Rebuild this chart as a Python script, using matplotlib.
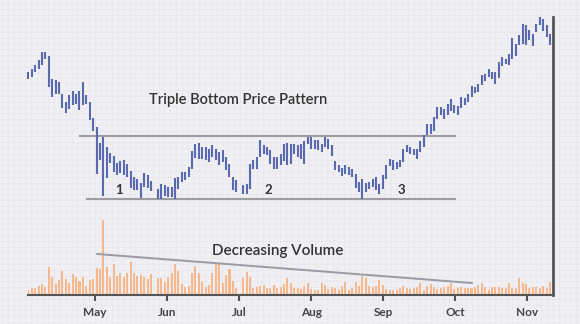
import numpy as np
import matplotlib
matplotlib.use("Agg")
import matplotlib.pyplot as plt

plt.rcParams['font.family'] = ['Lato', 'DejaVu Sans']

# price bars (high / low), one per trading day, nan = no trade
high = [45.7, 46.3, 47.0, 48.0, 49.7, 49.7, 48.8, 44.3, 44.0, 43.7,
        41.3, 39.7, 41.0, 41.8, 41.3, 41.8, 43.7, 41.0, 39.7, 36.5,
        34.7, 31.4, 32.7, 30.7, 29.4, 28.8, 27.4, 27.8, 28.0, 27.2,
        25.8, 24.6, 24.2, 23.4, 25.4, 25.1, 23.8, np.nan, 22.3, 23.2,
        23.1, 22.7, 22.7, 24.5, 24.7, 25.7, 25.7, 26.6, 29.8, 31.3,
        31.4, 30.7, 30.7, 30.3, 31.0, 30.3, 29.7, 30.0, 28.7, 27.3,
        24.7, 24.0, np.nan, 23.0, 23.3, 27.3, 28.0, 28.7, 32.0, 31.0,
        30.7, 30.0, 28.7, 28.7, 29.2, 31.2, 31.5, 31.3, 31.3, 31.0,
        31.3, 31.8, 32.7, 32.7, 32.0, 32.0, 31.3, 32.7, 32.3, 31.0,
        27.8, 27.0, 26.4, 27.0, 26.7, 26.3, 25.2, 23.7, 24.2, 23.5,
        23.7, 24.3, 24.7, 23.3, 25.0, 27.0, 28.3, 28.0, 27.7, 28.0,
        30.3, 31.0, 30.7, 30.3, 30.3, 31.9, 33.0, 35.3, 35.3, 36.7,
        38.7, 38.7, 38.3, 39.2, 40.3, 39.0, 38.8, 40.6, 40.4, 41.3,
        42.8, 42.7, 43.3, 45.0, 45.3, 46.3, 45.7, 45.7, 47.7, 48.7,
        48.2, 49.3, 52.5, 51.2, 53.0, 55.3, 55.0, 54.0, 53.3, 55.3,
        56.7, 56.3, 55.0, 53.2]
low = [44.2, 44.7, 45.7, 46.3, 47.0, 48.3, 42.7, 40.7, 41.3, 41.3,
       38.5, 37.5, 38.3, 39.0, 39.3, 38.0, 39.0, 39.3, 36.1, 33.9,
       25.3, 28.0, 20.8, 24.4, 27.4, 25.6, 25.0, 25.4, 25.0, 24.6,
       22.4, 22.0, 22.0, 20.4, 22.6, 22.4, 21.8, np.nan, 20.3, 20.3,
       20.8, 20.7, 20.7, 20.3, 22.2, 23.7, 24.0, 24.7, 26.3, 28.5,
       28.2, 28.3, 28.0, 27.7, 28.7, 28.0, 27.0, 27.7, 26.0, 24.7,
       22.0, 21.7, np.nan, 21.3, 21.3, 22.3, 26.3, 26.3, 28.7, 29.3,
       29.0, 27.3, 26.3, 26.3, 27.0, 27.8, 27.0, 27.3, 29.3, 28.7,
       28.3, 27.3, 31.2, 30.3, 30.3, 30.0, 29.7, 30.7, 30.3, 28.8,
       26.0, 25.7, 24.8, 25.3, 25.0, 24.6, 22.5, 21.7, 20.2, 21.7,
       22.2, 22.7, 22.0, 21.3, 22.3, 24.3, 26.8, 26.0, 26.3, 26.7,
       27.7, 29.7, 29.3, 29.0, 28.3, 29.7, 30.7, 33.0, 33.3, 33.8,
       36.2, 37.0, 36.3, 37.0, 37.8, 37.5, 37.0, 38.5, 39.0, 39.7,
       40.6, 41.4, 41.7, 43.0, 43.8, 44.7, 44.3, 43.2, 44.4, 46.8,
       47.3, 47.0, 48.3, 48.8, 51.0, 51.2, 51.0, 52.0, 50.9, 53.7,
       55.0, 53.8, 52.7, 51.0]

volume = [50, 67, 73, 90, 110, 83, 283, 183, 107, 150,
          243, 160, 117, 210, 183, 140, 183, 90, 150, 160,
          267, 257, 750, 283, 183, 307, 193, 217, 183, 217,
          333, 223, 190, 200, 177, 160, 207, 0, 173, 173,
          133, 177, 223, 307, 240, 110, 77, 90, 223, 290,
          223, 127, 83, 100, 223, 307, 307, 117, 200, 257,
          143, 67, 0, 173, 233, 183, 67, 83, 93, 100,
          67, 67, 100, 67, 83, 107, 167,
          117, 67, 67, 60, 93, 123, 60, 50, 50, 123,
          100, 57, 83, 73, 50, 93, 133, 50, 67, 133,
          93, 190, 167, 90, 83, 93, 150, 97, 57, 50,
          50, 50, 67, 93, 67, 57, 67, 83, 123, 50,
          90, 107, 83, 60, 67, 83, 93, 123, 60, 67,
          83, 67, 67, 67, 83, 100, 117, 83, 50, 83,
          83, 83, 67, 67, 123, 67, 67, 167, 117, 107,
          67, 83, 83, 67, 90, 67, 133]

months = ['May', 'Jun', 'Jul', 'Aug', 'Sep', 'Oct', 'Nov']

support = 20.2
resistance = 32.8

days = np.arange(len(high))

fig = plt.figure(figsize=(5.8, 3.24), dpi=100)
fig.patch.set_facecolor('#f0f0f4')

# graph paper background
bg = fig.add_axes([0, 0, 1, 1], zorder=0)
bg.set_xlim(0, 580)
bg.set_ylim(0, 324)
bg.set_facecolor('#f0f0f4')
bg.set_xticks(np.arange(2, 580, 5.8))
bg.set_yticks(np.arange(2, 324, 5.8))
bg.grid(True, color='#e6e6ec', lw=0.5)
bg.tick_params(length=0, labelbottom=False, labelleft=False)
for s in bg.spines.values():
    s.set_visible(False)

rect = [28 / 580, 29 / 324, 525 / 580, 278 / 324]
ax_v = fig.add_axes(rect, zorder=1)
ax_v.patch.set_alpha(0)
ax_p = ax_v.twinx()
ax_p.patch.set_alpha(0)

# volume
ax_v.bar(days, volume, width=0.6, color='#f7b98c', zorder=2)
ax_v.set_ylim(0, 2780)
ax_v.plot([20.2, 130.1], [410, 120], color='#9a9aa6', lw=1.4)
ax_v.text(73.2, 440, 'Decreasing Volume', ha='center', va='center',
          fontsize=11, color='#333333', fontweight='semibold')

# price bars
ax_p.vlines(days, low, high, color='#5b6aae', lw=1.5, clip_on=False)
ax_p.set_ylim(1.0, 56.6)
ax_p.plot([15.2, 125.1], [resistance, resistance], color='#9c9ca2', lw=1.5, zorder=1)
ax_p.plot([17.2, 125.1], [support, support], color='#9c9ca2', lw=1.5, zorder=1)
ax_p.text(61.5, 40.0, 'Triple Bottom Price Pattern', ha='center', va='center',
          fontsize=10.5, color='#333333', fontweight='semibold')
for n, xi in zip(['1', '2', '3'], [26.6, 70.3, 109.3]):
    ax_p.text(xi, 22.0, n, ha='center', va='center', fontsize=9.5,
              color='#333333', fontweight='bold')

ax_v.set_xlim(-0.1, 153.9)
ax_v.set_xticks(19.56 + 21.12 * np.arange(len(months)))
ax_v.set_xticklabels(months)
ax_v.tick_params(axis='x', direction='out', length=4, width=1.5, color='#555555',
                 pad=5, labelsize=8.5, labelcolor='#444444')
for lab in ax_v.get_xticklabels():
    lab.set_fontweight('bold')
ax_v.set_yticks([])
ax_p.set_yticks([])

for a in (ax_v, ax_p):
    for side in ('top', 'left', 'right', 'bottom'):
        a.spines[side].set_visible(False)
ax_v.spines['bottom'].set_visible(True)
ax_v.spines['bottom'].set_color('#555555')
ax_v.spines['bottom'].set_linewidth(1.5)
ax_v.spines['right'].set_visible(True)
ax_v.spines['right'].set_color('#555555')
ax_v.spines['right'].set_linewidth(2)

fig.savefig('out.png', dpi=100, facecolor=fig.get_facecolor())
